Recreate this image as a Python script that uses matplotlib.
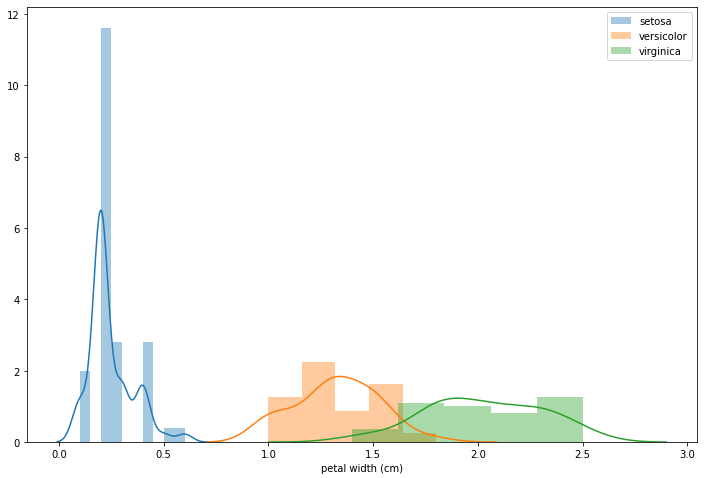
import numpy as np
import matplotlib.pyplot as plt

# iris petal width (cm) per species
setosa = [0.2, 0.2, 0.2, 0.2, 0.2, 0.4, 0.3, 0.2, 0.2, 0.1, 0.2, 0.2, 0.1, 0.1, 0.2, 0.4, 0.4,
          0.3, 0.3, 0.3, 0.2, 0.4, 0.2, 0.5, 0.2, 0.2, 0.4, 0.2, 0.2, 0.2, 0.2, 0.4, 0.1, 0.2,
          0.2, 0.2, 0.2, 0.1, 0.2, 0.2, 0.3, 0.3, 0.2, 0.6, 0.4, 0.3, 0.2, 0.2, 0.2, 0.2]
versicolor = [1.4, 1.5, 1.5, 1.3, 1.5, 1.3, 1.6, 1.0, 1.3, 1.4, 1.0, 1.5, 1.0, 1.4, 1.3, 1.4, 1.5,
              1.0, 1.5, 1.1, 1.8, 1.3, 1.5, 1.2, 1.3, 1.4, 1.4, 1.7, 1.5, 1.0, 1.1, 1.0, 1.2, 1.6,
              1.5, 1.6, 1.5, 1.3, 1.3, 1.3, 1.2, 1.4, 1.2, 1.0, 1.3, 1.2, 1.3, 1.3, 1.1, 1.3]
virginica = [2.5, 1.9, 2.1, 1.8, 2.2, 2.1, 1.7, 1.8, 1.8, 2.5, 2.0, 1.9, 2.1, 2.0, 2.4, 2.3, 1.8,
             2.2, 2.3, 1.5, 2.3, 2.0, 2.0, 1.8, 2.1, 1.8, 1.8, 1.8, 2.1, 1.6, 1.9, 2.0, 2.2, 1.5,
             1.4, 2.3, 2.4, 1.8, 1.8, 2.1, 2.4, 2.3, 1.9, 2.3, 2.5, 2.3, 1.9, 2.0, 2.3, 1.8]
names = ["setosa", "versicolor", "virginica"]
colors = ["#1f77b4", "#ff7f0e", "#2ca02c"]


def fd_bins(a):
    a = np.asarray(a)
    iqr = np.subtract(*np.percentile(a, [75, 25]))
    h = 2 * iqr / len(a) ** (1 / 3)
    return int(np.ceil((a.max() - a.min()) / h))


def kde(a, cut=3, n=200):
    # gaussian kde, scott bandwidth as statsmodels does it
    a = np.asarray(a)
    iqr = np.subtract(*np.percentile(a, [75, 25]))
    bw = 1.059 * min(a.std(ddof=1), iqr / 1.349) * len(a) ** (-0.2)
    grid = np.linspace(a.min() - cut * bw, a.max() + cut * bw, n)
    dens = np.exp(-0.5 * ((grid[:, None] - a[None, :]) / bw) ** 2).sum(1)
    dens /= len(a) * bw * np.sqrt(2 * np.pi)
    return grid, dens


fig, ax = plt.subplots(figsize=(10.07, 6.65), dpi=72)
for data, name, c in zip([setosa, versicolor, virginica], names, colors):
    ax.hist(data, bins=fd_bins(data), density=True, color=c, alpha=0.4, label=name)
    x, y = kde(data)
    ax.plot(x, y, color=c)

ax.set_xlabel("petal width (cm)")
ax.legend(loc="upper right")
fig.subplots_adjust(left=0.037, right=0.961, top=0.983, bottom=0.075)
fig.savefig("out.png")
